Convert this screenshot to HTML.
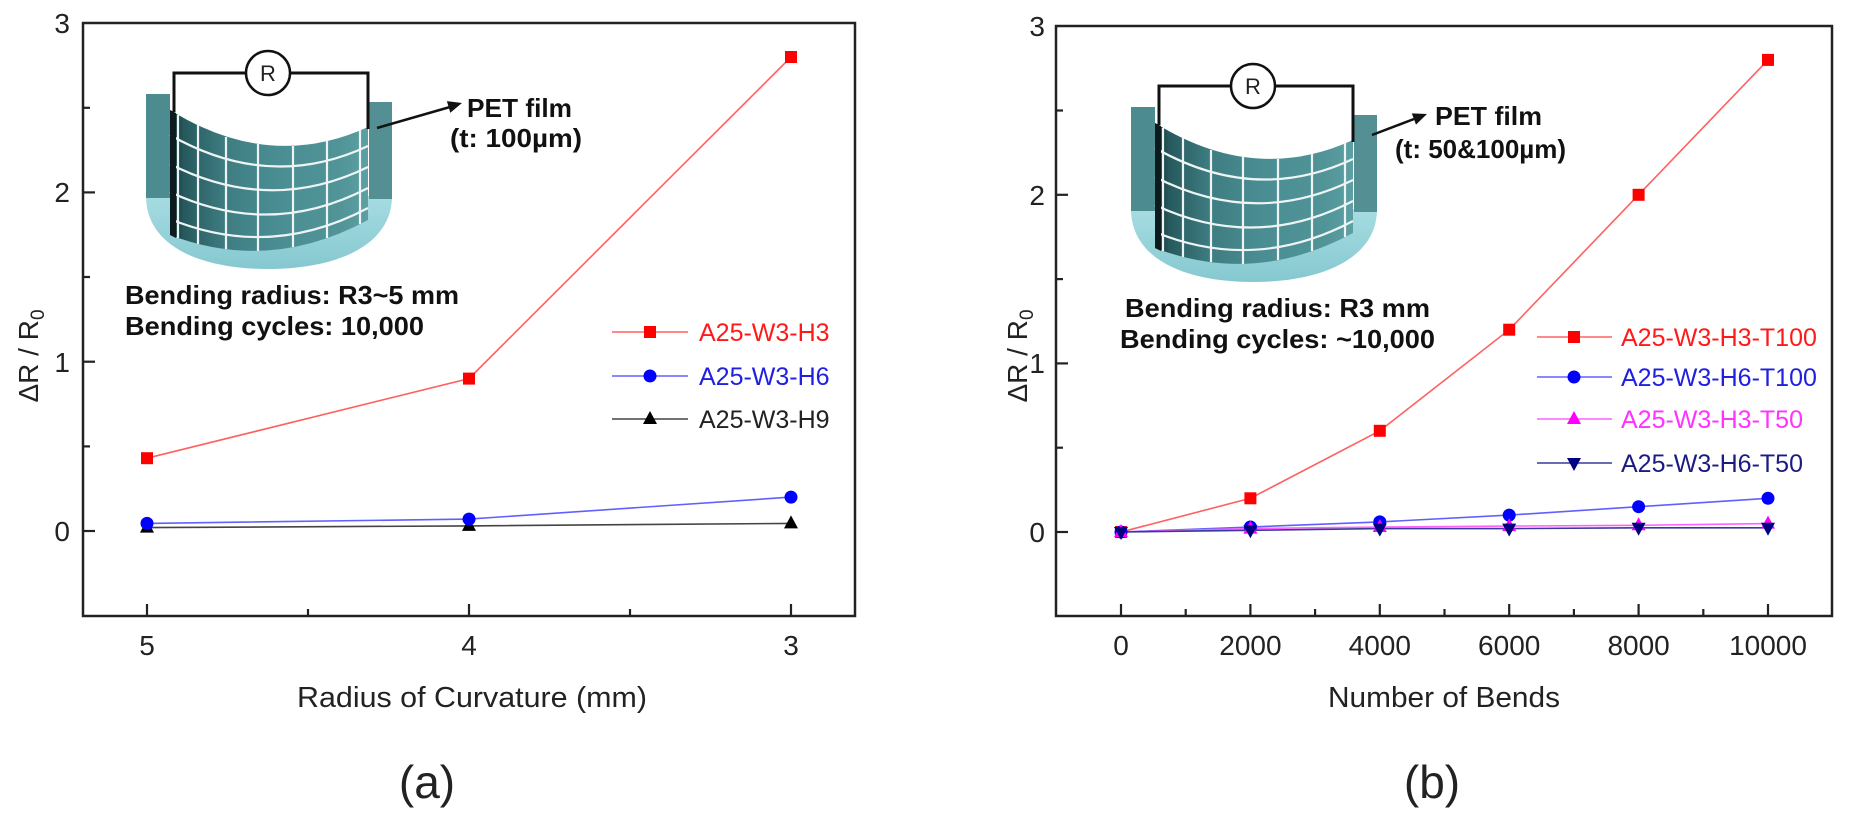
<!DOCTYPE html>
<html>
<head>
<meta charset="utf-8">
<style>
  html, body { margin: 0; padding: 0; background: #ffffff; }
  body { width: 1850px; height: 822px; overflow: hidden; }
  svg { display: block; }
  text { font-family: "Liberation Sans", Arial, sans-serif; }
</style>
</head>
<body>
<svg width="1850" height="822" viewBox="0 0 1850 822" xmlns="http://www.w3.org/2000/svg">
  <defs>
    <linearGradient id="filmg" x1="0" y1="0" x2="1" y2="0">
      <stop offset="0" stop-color="#0f2d30"/>
      <stop offset="0.07" stop-color="#26595d"/>
      <stop offset="0.28" stop-color="#3e7d82"/>
      <stop offset="0.55" stop-color="#4a8e93"/>
      <stop offset="0.85" stop-color="#509498"/>
      <stop offset="1" stop-color="#5da0a4"/>
    </linearGradient>
    <linearGradient id="baseg" x1="0" y1="0" x2="0" y2="1">
      <stop offset="0" stop-color="#a6dce2"/>
      <stop offset="1" stop-color="#86c8d0"/>
    </linearGradient>
  </defs>
  <rect x="0" y="0" width="1850" height="822" fill="#ffffff"/>

  <!-- ================= LEFT INSET ================= -->
  <g>
    <path d="M146,196 L392,196 C392,246 336,269 268,269 C200,269 146,246 146,196 Z" fill="url(#baseg)"/>
    <rect x="146" y="94" width="24" height="104" fill="#4c8b8f"/>
    <rect x="369" y="102" width="23" height="97" fill="#548f94"/>
    <path d="M170,110 Q270,172 368,127 L368,220 Q270,273 170,235 Z" fill="url(#filmg)"/>
    <g stroke="#eef4f4" stroke-width="2.2" fill="none">
      <path d="M170,135 Q270,192 368,146"/>
      <path d="M170,164 Q270,215 368,167"/>
      <path d="M170,192 Q270,239 368,188"/>
      <path d="M170,219 Q270,260 368,208"/>
      <line x1="178" y1="115" x2="178" y2="238"/>
      <line x1="198" y1="125" x2="198" y2="244"/>
      <line x1="226" y1="137" x2="226" y2="249"/>
      <line x1="258" y1="144" x2="258" y2="251"/>
      <line x1="293" y1="146" x2="293" y2="247"/>
      <line x1="327" y1="141" x2="327" y2="238"/>
      <line x1="360" y1="130" x2="360" y2="224"/>
    </g>
    <path d="M170,110 L176,113 L176,238 L170,235 Z" fill="#0c1c1e"/>
    <path d="M174,112 L174,73 L246,73 M290,73 L368,73 L368,129" stroke="#111" stroke-width="3" fill="none"/>
    <circle cx="268" cy="73" r="22" fill="#ffffff" stroke="#111" stroke-width="2.5"/>
    <text x="268" y="81" font-size="22" text-anchor="middle" fill="#222">R</text>
  </g>
  <line x1="377" y1="128" x2="450" y2="107" stroke="#111" stroke-width="2.5"/>
  <polygon points="462,103 450.3,112.7 446.9,101.1" fill="#111"/>
  <text x="467" y="117" font-size="26" font-weight="bold" fill="#111" textLength="105" lengthAdjust="spacingAndGlyphs">PET film</text>
  <text x="450" y="147" font-size="26" font-weight="bold" fill="#111" textLength="132" lengthAdjust="spacingAndGlyphs">(t: 100µm)</text>
  <text x="125" y="304" font-size="26" font-weight="bold" fill="#111" textLength="334" lengthAdjust="spacingAndGlyphs">Bending radius: R3~5 mm</text>
  <text x="125" y="335" font-size="26" font-weight="bold" fill="#111" textLength="299" lengthAdjust="spacingAndGlyphs">Bending cycles: 10,000</text>

  <!-- ================= RIGHT INSET ================= -->
  <g transform="translate(985,13)">
    <path d="M146,196 L392,196 C392,246 336,269 268,269 C200,269 146,246 146,196 Z" fill="url(#baseg)"/>
    <rect x="146" y="94" width="24" height="104" fill="#4c8b8f"/>
    <rect x="369" y="102" width="23" height="97" fill="#548f94"/>
    <path d="M170,110 Q270,172 368,127 L368,220 Q270,273 170,235 Z" fill="url(#filmg)"/>
    <g stroke="#eef4f4" stroke-width="2.2" fill="none">
      <path d="M170,135 Q270,192 368,146"/>
      <path d="M170,164 Q270,215 368,167"/>
      <path d="M170,192 Q270,239 368,188"/>
      <path d="M170,219 Q270,260 368,208"/>
      <line x1="178" y1="115" x2="178" y2="238"/>
      <line x1="198" y1="125" x2="198" y2="244"/>
      <line x1="226" y1="137" x2="226" y2="249"/>
      <line x1="258" y1="144" x2="258" y2="251"/>
      <line x1="293" y1="146" x2="293" y2="247"/>
      <line x1="327" y1="141" x2="327" y2="238"/>
      <line x1="360" y1="130" x2="360" y2="224"/>
    </g>
    <path d="M170,110 L176,113 L176,238 L170,235 Z" fill="#0c1c1e"/>
    <path d="M174,112 L174,73 L246,73 M290,73 L368,73 L368,129" stroke="#111" stroke-width="3" fill="none"/>
    <circle cx="268" cy="73" r="22" fill="#ffffff" stroke="#111" stroke-width="2.5"/>
    <text x="268" y="81" font-size="22" text-anchor="middle" fill="#222">R</text>
  </g>
  <line x1="1372" y1="135" x2="1414" y2="119" stroke="#111" stroke-width="2.5"/>
  <polygon points="1427,114 1416,124.6 1411.8,113.4" fill="#111"/>
  <text x="1435" y="125" font-size="26" font-weight="bold" fill="#111" textLength="107" lengthAdjust="spacingAndGlyphs">PET film</text>
  <text x="1395" y="158" font-size="26" font-weight="bold" fill="#111">(t: 50&amp;100µm)</text>
  <text x="1125" y="317" font-size="26" font-weight="bold" fill="#111" textLength="305" lengthAdjust="spacingAndGlyphs">Bending radius: R3 mm</text>
  <text x="1120" y="348" font-size="26" font-weight="bold" fill="#111" textLength="315" lengthAdjust="spacingAndGlyphs">Bending cycles: ~10,000</text>

  <!-- ================= LEFT PLOT ================= -->
  <rect x="83" y="23" width="772" height="593" fill="none" stroke="#222" stroke-width="2.5"/>
  <g stroke="#222" stroke-width="2.2">
    <line x1="83" y1="531" x2="95" y2="531"/>
    <line x1="83" y1="361.7" x2="95" y2="361.7"/>
    <line x1="83" y1="192.4" x2="95" y2="192.4"/>
    <line x1="83" y1="446.4" x2="90" y2="446.4"/>
    <line x1="83" y1="277" x2="90" y2="277"/>
    <line x1="83" y1="107.8" x2="90" y2="107.8"/>
    <line x1="147" y1="616" x2="147" y2="604"/>
    <line x1="469" y1="616" x2="469" y2="604"/>
    <line x1="791" y1="616" x2="791" y2="604"/>
    <line x1="308" y1="616" x2="308" y2="609"/>
    <line x1="630" y1="616" x2="630" y2="609"/>
  </g>
  <g font-size="28" fill="#222" text-anchor="end">
    <text x="70" y="541">0</text>
    <text x="70" y="372">1</text>
    <text x="70" y="202">2</text>
    <text x="70" y="33">3</text>
  </g>
  <g font-size="28" fill="#222" text-anchor="middle">
    <text x="147" y="655">5</text>
    <text x="469" y="655">4</text>
    <text x="791" y="655">3</text>
  </g>
  <text x="472" y="707" font-size="29" fill="#222" text-anchor="middle" textLength="350" lengthAdjust="spacingAndGlyphs">Radius of Curvature (mm)</text>
  <text transform="translate(38,356) rotate(-90)" font-size="28" fill="#222" text-anchor="middle">ΔR / R<tspan font-size="19" dy="6">0</tspan></text>
  <text x="427" y="798" font-size="46" fill="#222" text-anchor="middle">(a)</text>

  <!-- series left -->
  <polyline points="147,527.6 469,525.9 791,523.4" fill="none" stroke="#444" stroke-width="1.6"/>
  <polyline points="147,523.4 469,519.1 791,497.1" fill="none" stroke="#6060ff" stroke-width="1.6"/>
  <polyline points="147,458.2 469,378.6 791,57" fill="none" stroke="#ff6060" stroke-width="1.6"/>
  <g fill="#000">
    <polygon points="147,519.6 140,532.6 154,532.6"/>
    <polygon points="469,517.9 462,530.9 476,530.9"/>
    <polygon points="791,515.4 784,528.4 798,528.4"/>
  </g>
  <g fill="#0000ff">
    <circle cx="147" cy="523.4" r="6.5"/>
    <circle cx="469" cy="519.1" r="6.5"/>
    <circle cx="791" cy="497.1" r="6.5"/>
  </g>
  <g fill="#ff0000">
    <rect x="141" y="452.2" width="12" height="12"/>
    <rect x="463" y="372.6" width="12" height="12"/>
    <rect x="785" y="51" width="12" height="12"/>
  </g>
  <!-- legend left -->
  <line x1="612" y1="332" x2="688" y2="332" stroke="#ff6060" stroke-width="1.6"/>
  <rect x="644" y="326" width="12" height="12" fill="#ff0000"/>
  <text x="699" y="341" font-size="25" fill="#ff1a1a">A25-W3-H3</text>
  <line x1="612" y1="376" x2="688" y2="376" stroke="#6060ff" stroke-width="1.6"/>
  <circle cx="650" cy="376" r="6.5" fill="#0000ff"/>
  <text x="699" y="385" font-size="25" fill="#2020e0">A25-W3-H6</text>
  <line x1="612" y1="419" x2="688" y2="419" stroke="#444" stroke-width="1.6"/>
  <polygon points="650,411 643,424 657,424" fill="#000"/>
  <text x="699" y="428" font-size="25" fill="#222">A25-W3-H9</text>

  <!-- ================= RIGHT PLOT ================= -->
  <rect x="1056" y="26" width="776" height="590" fill="none" stroke="#222" stroke-width="2.5"/>
  <g stroke="#222" stroke-width="2.2">
    <line x1="1056" y1="532" x2="1068" y2="532"/>
    <line x1="1056" y1="363.4" x2="1068" y2="363.4"/>
    <line x1="1056" y1="194.8" x2="1068" y2="194.8"/>
    <line x1="1056" y1="447.7" x2="1063" y2="447.7"/>
    <line x1="1056" y1="279.1" x2="1063" y2="279.1"/>
    <line x1="1056" y1="110.5" x2="1063" y2="110.5"/>
    <line x1="1121" y1="616" x2="1121" y2="604"/>
    <line x1="1250.4" y1="616" x2="1250.4" y2="604"/>
    <line x1="1379.8" y1="616" x2="1379.8" y2="604"/>
    <line x1="1509.2" y1="616" x2="1509.2" y2="604"/>
    <line x1="1638.6" y1="616" x2="1638.6" y2="604"/>
    <line x1="1768" y1="616" x2="1768" y2="604"/>
    <line x1="1185.7" y1="616" x2="1185.7" y2="609"/>
    <line x1="1315.1" y1="616" x2="1315.1" y2="609"/>
    <line x1="1444.5" y1="616" x2="1444.5" y2="609"/>
    <line x1="1573.9" y1="616" x2="1573.9" y2="609"/>
    <line x1="1703.3" y1="616" x2="1703.3" y2="609"/>
  </g>
  <g font-size="28" fill="#222" text-anchor="end">
    <text x="1045" y="542">0</text>
    <text x="1045" y="373">1</text>
    <text x="1045" y="205">2</text>
    <text x="1045" y="36">3</text>
  </g>
  <g font-size="28" fill="#222" text-anchor="middle">
    <text x="1121" y="655">0</text>
    <text x="1250.4" y="655">2000</text>
    <text x="1379.8" y="655">4000</text>
    <text x="1509.2" y="655">6000</text>
    <text x="1638.6" y="655">8000</text>
    <text x="1768" y="655">10000</text>
  </g>
  <text x="1444" y="707" font-size="29" fill="#222" text-anchor="middle" textLength="232" lengthAdjust="spacingAndGlyphs">Number of Bends</text>
  <text transform="translate(1027,356) rotate(-90)" font-size="28" fill="#222" text-anchor="middle">ΔR / R<tspan font-size="19" dy="6">0</tspan></text>
  <text x="1432" y="798" font-size="46" fill="#222" text-anchor="middle">(b)</text>

  <!-- series right -->
  <polyline points="1121,532 1250.4,498.3 1379.8,430.8 1509.2,329.7 1638.6,194.8 1768,59.9" fill="none" stroke="#ff6060" stroke-width="1.6"/>
  <polyline points="1121,532 1250.4,527 1379.8,521.9 1509.2,515.1 1638.6,506.7 1768,498.3" fill="none" stroke="#6060ff" stroke-width="1.6"/>
  <polyline points="1121,532 1250.4,528.6 1379.8,527 1509.2,526.1 1638.6,525.3 1768,523.6" fill="none" stroke="#ff60ff" stroke-width="1.6"/>
  <polyline points="1121,532 1250.4,530.3 1379.8,528.6 1509.2,528.6 1638.6,527.8 1768,527.8" fill="none" stroke="#3a3a9a" stroke-width="1.6"/>
  <g fill="#ff0000">
    <rect x="1115" y="526" width="12" height="12"/>
    <rect x="1244.4" y="492.3" width="12" height="12"/>
    <rect x="1373.8" y="424.8" width="12" height="12"/>
    <rect x="1503.2" y="323.7" width="12" height="12"/>
    <rect x="1632.6" y="188.8" width="12" height="12"/>
    <rect x="1762" y="53.9" width="12" height="12"/>
  </g>
  <g fill="#0000ff">
    <circle cx="1121" cy="532" r="6.5"/>
    <circle cx="1250.4" cy="527" r="6.5"/>
    <circle cx="1379.8" cy="521.9" r="6.5"/>
    <circle cx="1509.2" cy="515.1" r="6.5"/>
    <circle cx="1638.6" cy="506.7" r="6.5"/>
    <circle cx="1768" cy="498.3" r="6.5"/>
  </g>
  <g fill="#ff00ff">
    <polygon points="1121,524 1114,537 1128,537"/>
    <polygon points="1250.4,520.6 1243.4,533.6 1257.4,533.6"/>
    <polygon points="1379.8,519 1372.8,532 1386.8,532"/>
    <polygon points="1509.2,518.1 1502.2,531.1 1516.2,531.1"/>
    <polygon points="1638.6,517.3 1631.6,530.3 1645.6,530.3"/>
    <polygon points="1768,515.6 1761,528.6 1775,528.6"/>
  </g>
  <g fill="#000080">
    <polygon points="1114,527 1128,527 1121,540"/>
    <polygon points="1243.4,525.3 1257.4,525.3 1250.4,538.3"/>
    <polygon points="1372.8,523.6 1386.8,523.6 1379.8,536.6"/>
    <polygon points="1502.2,523.6 1516.2,523.6 1509.2,536.6"/>
    <polygon points="1631.6,522.8 1645.6,522.8 1638.6,535.8"/>
    <polygon points="1761,522.8 1775,522.8 1768,535.8"/>
  </g>
  <!-- legend right -->
  <line x1="1537" y1="337" x2="1612" y2="337" stroke="#ff6060" stroke-width="1.6"/>
  <rect x="1568" y="331" width="12" height="12" fill="#ff0000"/>
  <text x="1621" y="346" font-size="25" fill="#ff1a1a">A25-W3-H3-T100</text>
  <line x1="1537" y1="377" x2="1612" y2="377" stroke="#6060ff" stroke-width="1.6"/>
  <circle cx="1574" cy="377" r="6.5" fill="#0000ff"/>
  <text x="1621" y="386" font-size="25" fill="#2020e0">A25-W3-H6-T100</text>
  <line x1="1537" y1="419" x2="1612" y2="419" stroke="#ff60ff" stroke-width="1.6"/>
  <polygon points="1574,411 1567,424 1581,424" fill="#ff00ff"/>
  <text x="1621" y="428" font-size="25" fill="#ff33ff">A25-W3-H3-T50</text>
  <line x1="1537" y1="463" x2="1612" y2="463" stroke="#3a3a9a" stroke-width="1.6"/>
  <polygon points="1567,458 1581,458 1574,471" fill="#000080"/>
  <text x="1621" y="472" font-size="25" fill="#1c1c80">A25-W3-H6-T50</text>
</svg>
</body>
</html>
